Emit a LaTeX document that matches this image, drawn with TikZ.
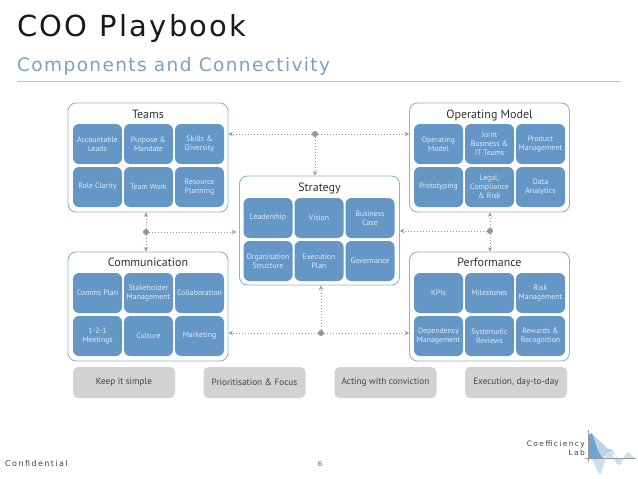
\documentclass[tikz,border=0pt]{standalone}
\usepackage{fontspec}
\setmainfont{DejaVu Sans}
\newfontfamily\cellfont{PT Sans}
\newfontfamily\titlefont[LetterSpace=8]{DejaVu Sans}
\newfontfamily\subtitlefont[LetterSpace=7.5]{DejaVu Sans}
\newfontfamily\widefont[LetterSpace=18]{DejaVu Sans}
\definecolor{cellblue}{HTML}{6496C6}
\definecolor{edgeblue}{HTML}{8FB3CF}
\definecolor{subblue}{HTML}{7BA0C4}
\definecolor{celltext}{HTML}{E2ECF5}
\definecolor{cellgrey}{HTML}{D2D2D2}
\definecolor{linkgrey}{HTML}{969696}
\definecolor{rulegrey}{HTML}{B9C5D0}
\definecolor{logoblue}{HTML}{5E9AC9}
\begin{document}
\begin{tikzpicture}[x=1pt, y=-1pt, node distance=51pt,
 groupbox/.style={rectangle, rounded corners=8pt, draw=edgeblue, fill=white, line width=0.9pt, minimum width=160pt, minimum height=109pt, inner sep=0pt},
 cellnode/.style={rectangle, rounded corners=6pt, fill=cellblue, text=celltext, font=\fontsize{7.8}{8.8}\cellfont, align=center, minimum width=49pt, minimum height=40pt, inner sep=0pt},
 headnode/.style={anchor=base, font=\fontsize{12}{14}\cellfont, text=black!80, inner sep=0pt},
 mottonode/.style={rectangle, rounded corners=5pt, fill=cellgrey, text=black!75, font=\fontsize{9.2}{10}\cellfont, minimum width=102pt, minimum height=31pt, inner sep=0pt},
 hubnode/.style={circle, fill=linkgrey, minimum size=6pt, inner sep=0pt},
 linknode/.style={-stealth, linkgrey, line width=1pt, dash pattern=on 1pt off 2pt}]

\useasboundingbox (0,0) rectangle (638,479);

% title
\node[anchor=base west, inner sep=0pt, text=black!90, font=\fontsize{29}{32}\titlefont] (title) at (17,36) {COO Playbook};
\node[anchor=base west, inner sep=0pt, text=subblue, font=\fontsize{18.5}{22}\subtitlefont] (subtitle) at (17,71) {Components and Connectivity};
\draw[color=rulegrey, line width=0.8pt] (17,81.5) -- (621,81.5);

% teams
\node[groupbox] (teams) at (148,157.5) {};
\node[headnode] (teamshead) at (148,118) {Teams};
\node[cellnode] (t1) at (97.5,144) {Accountable\\Leads};
\node[cellnode] (t2) [right of=t1] {Purpose \&\\Mandate};
\node[cellnode] (t3) [right of=t2] {Skills \&\\Diversity};
\node[cellnode] (t4) at (97.5,187) {Role Clarity};
\node[cellnode] (t5) [right of=t4] {Team Work};
\node[cellnode] (t6) [right of=t5] {Resource\\Planning};

% operating model
\node[groupbox] (opmodel) at (489.5,157.5) {};
\node[headnode] (opmodelhead) at (489.5,118) {Operating Model};
\node[cellnode] (o1) at (438.5,144) {Operating\\Model};
\node[cellnode] (o2) [right of=o1] {Joint\\Business \&\\IT Teams};
\node[cellnode] (o3) [right of=o2] {Product\\Management};
\node[cellnode] (o4) at (438.5,187) {Prototyping};
\node[cellnode] (o5) [right of=o4] {Legal,\\Compliance\\\& Risk};
\node[cellnode] (o6) [right of=o5] {Data\\Analytics};

% strategy
\node[groupbox] (strategy) at (319.5,230.5) {};
\node[headnode] (strategyhead) at (319.5,191.5) {Strategy};
\node[cellnode] (s1) at (268,218) {Leadership};
\node[cellnode] (s2) [right of=s1] {Vision};
\node[cellnode] (s3) [right of=s2] {Business\\Case};
\node[cellnode] (s4) at (268,261) {Organisation\\Structure};
\node[cellnode] (s5) [right of=s4] {Execution\\Plan};
\node[cellnode] (s6) [right of=s5] {Governance};

% communication
\node[groupbox] (comms) at (148,306.5) {};
\node[headnode] (commshead) at (148,266.5) {Communication};
\node[cellnode] (c1) at (97.5,293) {Comms Plan};
\node[cellnode] (c2) [right of=c1] {Stakeholder\\Management};
\node[cellnode] (c3) [right of=c2] {Collaboration};
\node[cellnode] (c4) at (97.5,336) {1-2-1\\Meetings};
\node[cellnode] (c5) [right of=c4] {Culture};
\node[cellnode] (c6) [right of=c5] {Marketing};

% performance
\node[groupbox] (perf) at (489.5,306.5) {};
\node[headnode] (perfhead) at (489.5,266.5) {Performance};
\node[cellnode] (p1) at (438.5,293) {KPIs};
\node[cellnode] (p2) [right of=p1] {Milestones};
\node[cellnode] (p3) [right of=p2] {Risk\\Management};
\node[cellnode] (p4) at (438.5,336) {Dependency\\Management};
\node[cellnode] (p5) [right of=p4] {Systematic\\Reviews};
\node[cellnode] (p6) [right of=p5] {Rewards \&\\Recognition};

% bottom row
\node[mottonode] (m1) at (124,382.5) {Keep it simple};
\node[mottonode] (m2) at (254.5,382.5) {Prioritisation \& Focus};
\node[mottonode] (m3) at (385.5,382.5) {Acting with conviction};
\node[mottonode] (m4) at (516,382.5) {Execution, day-to-day};

% links
\node[hubnode] (hubtop) at (315,134) {};
\node[hubnode] (hubleft) at (146,232) {};
\node[hubnode] (hubright) at (490,231) {};
\node[hubnode] (hubbottom) at (321,333) {};

\draw[linknode] (hubtop) -- (teams.east |- hubtop);
\draw[linknode] (hubtop) -- (opmodel.west |- hubtop);
\draw[linknode] (hubtop) -- (strategy.north -| hubtop);
\draw[linknode] (hubleft) -- (teams.south -| hubleft);
\draw[linknode] (hubleft) -- (comms.north -| hubleft);
\draw[linknode, shorten >=3pt] (hubleft) -- (strategy.west |- hubleft);
\draw[linknode] (hubright) -- (opmodel.south -| hubright);
\draw[linknode] (hubright) -- (perf.north -| hubright);
\draw[linknode] (hubright) -- (strategy.east |- hubright);
\draw[linknode] (hubbottom) -- (strategy.south -| hubbottom);
\draw[linknode] (hubbottom) -- (comms.east |- hubbottom);
\draw[linknode] (hubbottom) -- (perf.west |- hubbottom);

% footer
\node[anchor=base west, inner sep=0pt, text=black!75, font=\fontsize{8}{10}\widefont] (conf) at (5,466) {Confidential};
\node[anchor=base, inner sep=0pt, text=black!65, font=\fontsize{7}{9}\selectfont] (page) at (320,466) {6};

% logo
\node[anchor=base east, inner sep=0pt, text=black!75, font=\fontsize{7.5}{9}\widefont] (coeff) at (585,446) {Coefficiency};
\node[anchor=base east, inner sep=0pt, text=black!75, font=\fontsize{7.5}{9}\widefont] (lab) at (585,455) {Lab};
\fill[logoblue!40, opacity=0.8] (588,458) .. controls (594,458) and (596,470) .. (600,475) .. controls (604,470) and (604,458) .. (609,448) .. controls (613,452) and (615,466) .. (620,465) .. controls (623,462) and (625,452) .. (628,452) .. controls (631,452) and (632,458) .. (635,458) -- cycle;
\fill[logoblue, opacity=0.9] (588,458) -- (588,440) .. controls (590,430) and (592,432) .. (594,438) .. controls (596,445) and (598,452) .. (603,458) -- cycle;
\fill[logoblue!60, opacity=0.7] (591,433) .. controls (596,440) and (600,458) .. (603,458) .. controls (606,458) and (608,448) .. (611,449) .. controls (614,450) and (615,458) .. (618,458) -- cycle;
\draw[black!40, line width=0.4pt] (588,430) -- (588,462);
\draw[black!40, line width=0.4pt] (585,458) -- (636,458);
\end{tikzpicture}
\end{document}
